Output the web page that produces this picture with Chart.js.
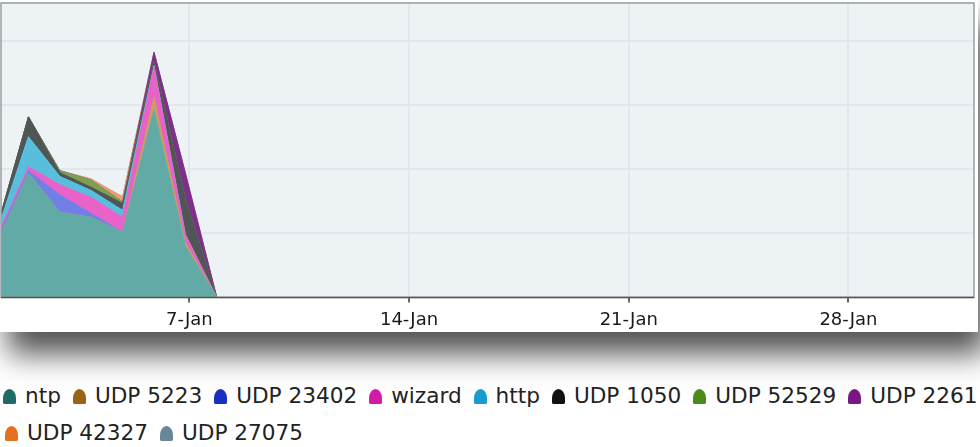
<!DOCTYPE html>
<html>
<head>
<meta charset="utf-8">
<script src="https://cdn.jsdelivr.net/npm/chart.js@4.4.1/dist/chart.umd.min.js"></script>
<style>
    body { margin: 0; background: #fff; font-family: "DejaVu Sans", sans-serif; overflow: hidden; }
    #card {
        position: absolute; left: 0; top: 0;
        width: 978px; height: 332px;
        overflow: hidden;
        background: #fff;
        box-shadow: 8px 22px 28px rgba(0,0,0,0.68);
    }
    #legend { position: absolute; left: 0; top: 377px; width: 980px; }
    .row { height: 37px; line-height: 37px; white-space: nowrap; font-size: 21.6px; color: #222; }
    .item { display: inline-block; margin-right: 12px; }
    .mark {
        display: inline-block; width: 13px; height: 15px; margin-right: 9px;
        border-radius: 7px 7px 2px 2px / 10px 10px 2px 2px;
        vertical-align: -1px;
    }
</style>
</head>
<body>
<div id="card"><canvas id="trafficChart" width="978" height="338"></canvas></div>
<div id="legend"></div>
<script>
// Time points (day of January, 21:00 each day)
const dayPoints = [0.875, 1.875, 2.875, 3.875, 4.875, 5.875, 6.875, 7.875];
const tickDays = [7, 14, 21, 28];

// Series values (stacked)
const seriesNames = ['ntp', 'UDP 5223', 'UDP 23402', 'wizard', 'http', 'UDP 1050', 'UDP 52529', 'UDP 2261', 'UDP 42327', 'UDP 27075'];
const ntp      = [0.86, 1.94, 1.33, 1.25, 1.02, 2.93, 0.80, 0];
const udp5223  = [0, 0, 0, 0, 0, 0.20, 0.06, 0];
const udp23402 = [0.05, 0.04, 0.27, 0.06, 0, 0, 0, 0];
const wizard   = [0.05, 0.06, 0.16, 0.25, 0.23, 0.47, 0.12, 0];
const http     = [0.08, 0.47, 0.13, 0.11, 0.11, 0.02, 0, 0];
const udp1050  = [0.05, 0.31, 0.06, 0.05, 0.11, 0.06, 0.55, 0];
const udp52529 = [0, 0, 0.03, 0.11, 0.02, 0, 0, 0];
const udp2261  = [0, 0, 0, 0, 0, 0.15, 0.41, 0];
const udp42327 = [0, 0, 0, 0.02, 0.08, 0, 0, 0];
const udp27075 = [0, 0, 0, 0, 0, 0, 0, 0];
const seriesValues = [ntp, udp5223, udp23402, wizard, http, udp1050, udp52529, udp2261, udp42327, udp27075];

// Area colours and legend marker colours
const fillColors = ['#62aaa5', '#d59a62', '#6f7fe6', '#e862c8', '#58bedc', '#4f5656', '#7fa052', '#7d2f8c', '#e8a070', '#7a95a3'];
const markColors = ['#1e6b66', '#9a6414', '#1a2fbf', '#d61aa8', '#1a9bd0', '#111111', '#4a8c1c', '#7a1883', '#e5701f', '#6b8797'];

// Plot background + frame
const plotFrame = {
    id: 'plotFrame',
    beforeDraw(chart) {
        const { ctx, chartArea: a } = chart;
        ctx.save();
        ctx.fillStyle = '#edf2f5';
        ctx.fillRect(a.left, a.top, a.right - a.left, a.bottom - a.top);
        ctx.restore();
    },
    afterDraw(chart) {
        const { ctx, chartArea: a } = chart;
        ctx.save();
        ctx.strokeStyle = '#9a9fa2';
        ctx.lineWidth = 1.5;
        ctx.strokeRect(a.left, a.top, a.right - a.left, a.bottom - a.top);
        ctx.strokeStyle = '#555';
        ctx.beginPath();
        ctx.moveTo(a.left, a.bottom);
        ctx.lineTo(a.right, a.bottom);
        ctx.stroke();
        ctx.restore();
    }
};

// HTML legend built from the chart's datasets
const htmlLegend = {
    id: 'htmlLegend',
    afterUpdate(chart) {
        const box = document.getElementById('legend');
        box.innerHTML = '';
        const rows = [document.createElement('div'), document.createElement('div')];
        rows[0].className = 'row'; rows[0].style.paddingLeft = '3px';
        rows[1].className = 'row'; rows[1].style.paddingLeft = '5px';
        chart.data.datasets.forEach((ds, i) => {
            const item = document.createElement('span');
            item.className = 'item';
            const mark = document.createElement('span');
            mark.className = 'mark';
            mark.style.background = markColors[i];
            item.appendChild(mark);
            item.appendChild(document.createTextNode(ds.label));
            rows[i < 8 ? 0 : 1].appendChild(item);
        });
        rows.forEach(r => box.appendChild(r));
    }
};

const datasets = seriesNames.map((name, i) => ({
    label: name,
    data: dayPoints.map((d, j) => ({ x: d, y: seriesValues[i][j] })),
    backgroundColor: fillColors[i],
    borderColor: fillColors[i],
    borderWidth: 1,
    fill: i === 0 ? 'origin' : '-1',
    pointRadius: 0,
    tension: 0
}));

const ctx = document.getElementById('trafficChart').getContext('2d');
new Chart(ctx, {
    type: 'line',
    data: { datasets: datasets },
    options: {
        responsive: false,
        animation: false,
        layout: { padding: { left: 1, top: 3, right: 4, bottom: 0 } },
        scales: {
            x: {
                type: 'linear',
                min: 1,
                max: 32,
                afterBuildTicks: (scale) => { scale.ticks = tickDays.map(v => ({ value: v })); },
                ticks: {
                    callback: (v) => v + '-Jan',
                    color: '#1a1a1a',
                    font: { family: 'DejaVu Sans', size: 18 },
                    padding: 7,
                    maxRotation: 0
                },
                grid: { color: '#e1e8ec', lineWidth: 2, tickLength: 5, tickColor: '#666' },
                border: { display: false }
            },
            y: {
                stacked: true,
                min: 0,
                max: 4.6,
                ticks: { display: false, stepSize: 1 },
                grid: { color: '#e1e8ec', lineWidth: 2, drawTicks: false },
                border: { display: false }
            }
        },
        plugins: {
            legend: { display: false },
            tooltip: { enabled: false }
        }
    },
    plugins: [plotFrame, htmlLegend]
});
</script>
</body>
</html>
